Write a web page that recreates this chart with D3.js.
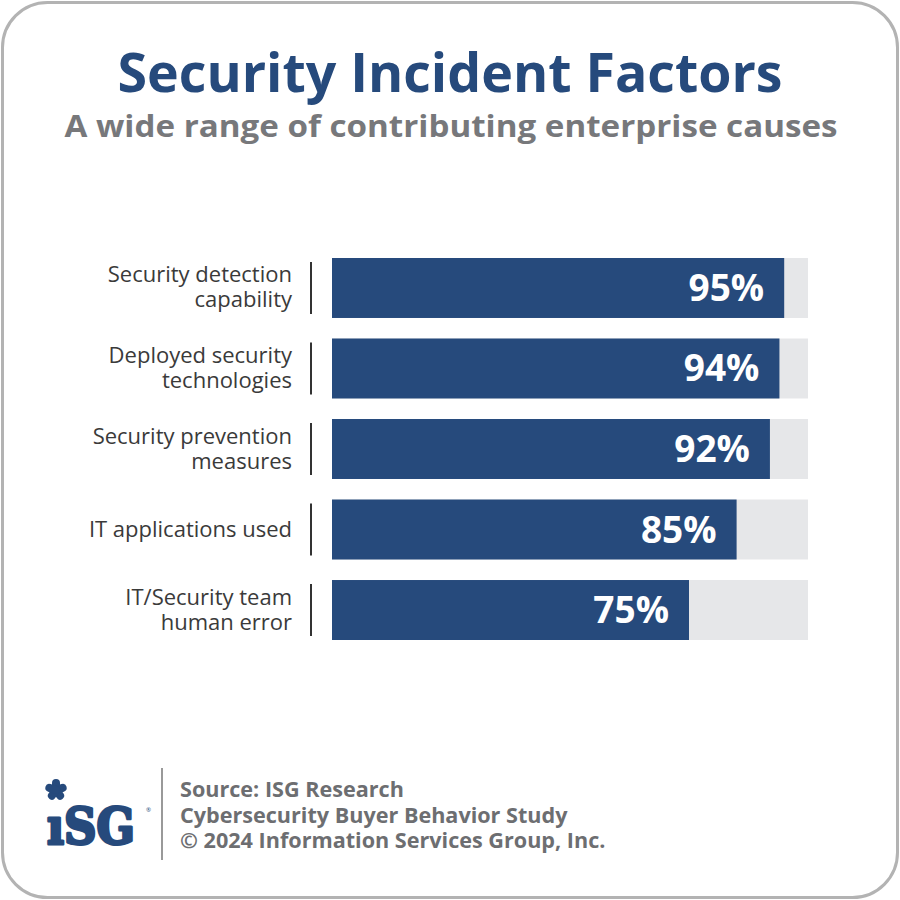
<!DOCTYPE html>
<html lang="en">
<head>
    <meta charset="UTF-8">
    <title>Security Incident Factors</title>
    <script src="https://d3js.org/d3.v7.min.js"></script>
    <style>
        body { margin: 0; background: #ffffff; }
        text { font-family: "Open Sans", "Noto Sans", sans-serif; }
        .label { font-size: 22px; fill: #3a3a3a; }
        .value { font-size: 37px; font-weight: 700; fill: #ffffff; }
        .foot { font-size: 21.6px; font-weight: 700; fill: #6d6e71; }
    </style>
</head>
<body>
    <div id="chart"></div>
    <script type="text/javascript">
        // data
        const categories = [
            ["Security detection", "capability"],
            ["Deployed security", "technologies"],
            ["Security prevention", "measures"],
            ["IT applications used"],
            ["IT/Security team", "human error"]
        ];
        const values = [95, 94, 92, 85, 75];
        const sourceLines = [
            "Source: ISG Research",
            "Cybersecurity Buyer Behavior Study",
            "\u00A9 2024 Information Services Group, Inc."
        ];

        const W = 900, H = 900;
        const blue = "#264a7c";

        const svg = d3.select("#chart").append("svg")
            .attr("width", W)
            .attr("height", H);

        // rounded frame
        svg.append("rect")
            .attr("x", 2.5).attr("y", 2.5)
            .attr("width", W - 5).attr("height", H - 5)
            .attr("rx", 45)
            .attr("fill", "#fff")
            .attr("stroke", "#b3b3b3")
            .attr("stroke-width", 3);

        // titles
        svg.append("text")
            .attr("x", 450).attr("y", 92)
            .attr("text-anchor", "middle")
            .attr("textLength", 665).attr("lengthAdjust", "spacingAndGlyphs")
            .style("font-size", "54px").style("font-weight", 700)
            .attr("fill", blue)
            .text("Security Incident Factors");

        svg.append("text")
            .attr("x", 451).attr("y", 137)
            .attr("text-anchor", "middle")
            .attr("textLength", 773).attr("lengthAdjust", "spacingAndGlyphs")
            .style("font-size", "31px").style("font-weight", 700)
            .attr("fill", "#77787b")
            .text("A wide range of contributing enterprise causes");

        // scales
        const x = d3.scaleLinear().domain([0, 100]).range([332, 808]);
        const y = d3.scaleBand()
            .domain(d3.range(values.length))
            .range([258, 640])
            .paddingInner(0.255)
            .paddingOuter(0);

        const rows = svg.append("g").selectAll("g")
            .data(values)
            .join("g");

        // grey track
        rows.append("rect")
            .attr("x", x(0))
            .attr("y", (d, i) => y(i))
            .attr("width", x(100) - x(0))
            .attr("height", y.bandwidth())
            .attr("fill", "#e6e7e9");

        // value bar
        rows.append("rect")
            .attr("x", x(0))
            .attr("y", (d, i) => y(i))
            .attr("width", d => x(d) - x(0))
            .attr("height", y.bandwidth())
            .attr("fill", blue);

        rows.append("text")
            .attr("class", "value")
            .attr("x", d => x(d) - 20)
            .attr("y", (d, i) => y(i) + y.bandwidth() / 2 + 13)
            .attr("text-anchor", "end")
            .text(d => d + "%");

        // tick marks beside labels
        rows.append("line")
            .attr("x1", 311).attr("x2", 311)
            .attr("y1", (d, i) => y(i) + 4)
            .attr("y2", (d, i) => y(i) + y.bandwidth() - 4)
            .attr("stroke", "#333")
            .attr("stroke-width", 2);

        // category labels
        rows.append("text")
            .attr("class", "label")
            .attr("text-anchor", "end")
            .each(function(d, i) {
                const lines = categories[i];
                const mid = y(i) + y.bandwidth() / 2;
                const top = mid + 7 - (lines.length - 1) * 12.5;
                d3.select(this).selectAll("tspan")
                    .data(lines)
                    .join("tspan")
                    .attr("x", 292)
                    .attr("y", (t, k) => top + k * 25)
                    .text(t => t);
            });

        // footer: logo
        const logo = svg.append("g").attr("fill", blue);
        const ast = logo.append("g")
            .attr("transform", "translate(56,790)")
            .attr("stroke", blue)
            .attr("stroke-width", 8)
            .attr("stroke-linecap", "round");
        [-90, -18, 54, 126, 198].forEach(a => {
            const r = a * Math.PI / 180;
            ast.append("line")
                .attr("x1", 0).attr("y1", 0)
                .attr("x2", Math.cos(r) * 7).attr("y2", Math.sin(r) * 7);
        });
        logo.append("text")
            .attr("x", 47).attr("y", 844)
            .attr("textLength", 88).attr("lengthAdjust", "spacingAndGlyphs")
            .attr("stroke", blue)
            .attr("stroke-width", 3)
            .attr("stroke-linejoin", "round")
            .style("font-family", "'DejaVu Serif', serif")
            .style("font-size", "50px").style("font-weight", 700)
            .text("\u0131SG");
        logo.append("text")
            .attr("x", 146).attr("y", 812)
            .style("font-size", "6px")
            .text("\u00AE");

        svg.append("line")
            .attr("x1", 162).attr("x2", 162)
            .attr("y1", 768).attr("y2", 860)
            .attr("stroke", "#777")
            .attr("stroke-width", 1.5);

        svg.append("g").selectAll("text")
            .data(sourceLines)
            .join("text")
            .attr("class", "foot")
            .attr("x", 180)
            .attr("y", (d, i) => 797 + i * 25.5)
            .text(d => d);
    </script>
</body>
</html>
